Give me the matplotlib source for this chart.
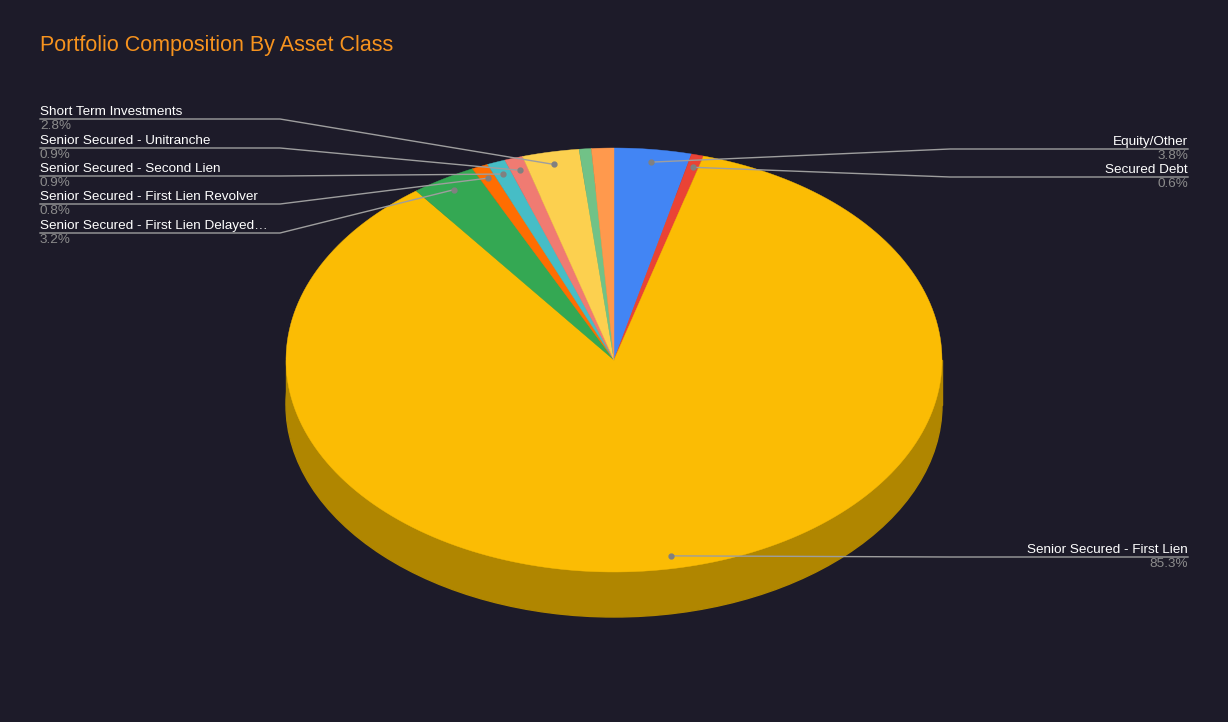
import numpy as np
import matplotlib.pyplot as plt
from matplotlib.patches import Polygon, Ellipse, Rectangle

plt.rcParams['font.family'] = ['Liberation Sans', 'DejaVu Sans']

labels = ['Equity/Other', 'Secured Debt', 'Senior Secured - First Lien',
          'Senior Secured - First Lien Delayed\u2026', 'Senior Secured - First Lien Revolver',
          'Senior Secured - Second Lien', 'Senior Secured - Unitranche',
          'Short Term Investments', 'Other A', 'Other B']
values = [3.8, 0.6, 85.3, 3.2, 0.8, 0.9, 0.9, 2.8, 0.6, 1.1]
colors = ['#4285f4', '#ea4335', '#fbbc04', '#34a853', '#ff6d01',
          '#46bdc6', '#f07b72', '#fcd04f', '#71c287', '#ff994d']
# label line y (pixels), side; None = unlabeled
label_pos = [(149, 'r'), (177, 'r'), (557, 'r'), (233, 'l'), (204, 'l'),
             (176, 'l'), (148, 'l'), (119, 'l'), None, None]

bg = '#1d1b29'
cx, cy, rx, ry, depth = 614, 360, 328, 212, 45

fig = plt.figure(figsize=(12.28, 7.22), dpi=100, facecolor=bg)
ax = fig.add_axes([0, 0, 1, 1])
ax.set_xlim(0, 1228)
ax.set_ylim(722, 0)
ax.axis('off')
ax.set_facecolor(bg)

# side of the 3D pie
side = '#b08600'
ax.add_patch(Ellipse((cx, cy + depth), 2 * rx, 2 * ry, color=side, zorder=1))
ax.add_patch(Rectangle((cx - rx, cy), 2 * rx, depth, color=side, zorder=1))

def pt(t, f=1.0):
    return cx + rx * f * np.sin(t), cy - ry * f * np.cos(t)

fr = np.cumsum([0] + values) / sum(values) * 2 * np.pi
for i, v in enumerate(values):
    ts = np.linspace(fr[i], fr[i + 1], 200)
    xs, ys = pt(ts)
    poly = np.column_stack([np.r_[cx, xs], np.r_[cy, ys]])
    ax.add_patch(Polygon(poly, closed=True, facecolor=colors[i],
                         edgecolor=colors[i], lw=0.3, zorder=2))

for i, lp in enumerate(label_pos):
    if lp is None:
        continue
    ly, side_ = lp
    mx, my = pt((fr[i] + fr[i + 1]) / 2, 0.94)
    ax.plot(mx, my, 'o', color='#808080', ms=3.5, zorder=4)
    pct = f'{values[i]:.1f}%'
    if side_ == 'r':
        ax.plot([mx, 950, 1188], [my, ly, ly], color='#9e9e9e', lw=1, zorder=3)
        ax.text(1188, ly - 1, labels[i], color='white', fontsize=9.7, ha='right', va='bottom')
        ax.text(1188, ly + 1, pct, color='#8c8c8c', fontsize=9.7, ha='right', va='top')
    else:
        ax.plot([mx, 280, 40], [my, ly, ly], color='#9e9e9e', lw=1, zorder=3)
        ax.text(40, ly - 1, labels[i], color='white', fontsize=9.7, ha='left', va='bottom')
        ax.text(40, ly + 1, pct, color='#8c8c8c', fontsize=9.7, ha='left', va='top')

ax.text(40, 46, 'Portfolio Composition By Asset Class', color='#f7931e',
        fontsize=15.5, ha='left', va='center')

fig.savefig('out.png', dpi=100, facecolor=bg)
